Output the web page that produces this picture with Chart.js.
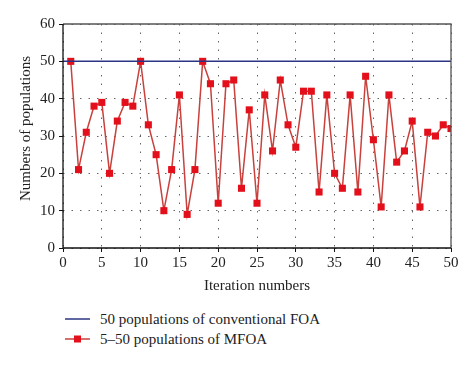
<!DOCTYPE html>
<html>
<head>
<meta charset="utf-8">
<script src="https://cdn.jsdelivr.net/npm/chart.js@4/dist/chart.umd.min.js"></script>
<style>
  html, body { margin: 0; padding: 0; background: #fff; }
  #wrap { position: relative; width: 474px; height: 366px; }
  #box { position: absolute; left: 0; top: 0; width: 474px; height: 300px; }
  #legende { position: absolute; left: 65px; top: 309px; font-family: "Liberation Serif", serif; font-size: 15px; color: #222; }
  .item { height: 20px; display: flex; align-items: center; }
  .item svg { margin-right: 10px; }
</style>
</head>
<body>
<div id="wrap">
  <div id="box"><canvas id="graphique"></canvas></div>
  <div id="legende"></div>
</div>
<script>
// Donnees
const iterations = [1, 2, 3, 4, 5, 6, 7, 8, 9, 10, 11, 12, 13, 14, 15, 16, 17, 18, 19, 20,
  21, 22, 23, 24, 25, 26, 27, 28, 29, 30, 31, 32, 33, 34, 35, 36, 37, 38, 39, 40,
  41, 42, 43, 44, 45, 46, 47, 48, 49, 50];
const populationsMFOA = [50, 21, 31, 38, 39, 20, 34, 39, 38, 50, 33, 25, 10, 21, 41, 9, 21, 50, 44, 12,
  44, 45, 16, 37, 12, 41, 26, 45, 33, 27, 42, 42, 15, 41, 20, 16, 41, 15, 46, 29,
  11, 41, 23, 26, 34, 11, 31, 30, 33, 32];
const iterationsFOA = [0, 50];
const populationsFOA = [50, 50];
const labelsSeries = ["50 populations of conventional FOA", "5\u201350 populations of MFOA"];
const xTicks = [0, 5, 10, 15, 20, 25, 30, 35, 40, 45, 50];
const yTicks = [0, 10, 20, 30, 40, 50, 60];

const bleu = "#2c3585";
const rougeLigne = "#c8413c";
const rougePoint = "#e3101b";
const police = "'Liberation Serif', serif";

const data = {
  datasets: [{
    label: labelsSeries[0],
    data: iterationsFOA.map((x, i) => ({x: x, y: populationsFOA[i]})),
    borderColor: bleu,
    borderWidth: 1.5,
    pointRadius: 0
  }, {
    label: labelsSeries[1],
    data: iterations.map((x, i) => ({x: x, y: populationsMFOA[i]})),
    borderColor: rougeLigne,
    borderWidth: 1.5,
    pointStyle: "rect",
    pointRadius: 5,
    pointBackgroundColor: rougePoint,
    pointBorderColor: rougePoint,
    pointBorderWidth: 0
  }]
};

// cadre autour de la zone du graphique
const cadre = {
  id: "cadre",
  afterDraw(chart) {
    const a = chart.chartArea;
    const ctx = chart.ctx;
    ctx.save();
    ctx.strokeStyle = "#555";
    ctx.lineWidth = 1.3;
    ctx.beginPath();
    ctx.moveTo(a.left, a.top);
    ctx.lineTo(a.right, a.top);
    ctx.lineTo(a.right, a.bottom);
    ctx.stroke();
    ctx.strokeStyle = "#111";
    ctx.beginPath();
    ctx.moveTo(a.left, a.top);
    ctx.lineTo(a.left, a.bottom);
    ctx.lineTo(a.right, a.bottom);
    ctx.stroke();
    ctx.restore();
  }
};

const config = {
  type: "line",
  data: data,
  options: {
    responsive: true,
    maintainAspectRatio: false,
    animation: false,
    layout: { padding: { top: 24, right: 23, left: 0, bottom: 0 } },
    plugins: { legend: { display: false }, tooltip: { enabled: false } },
    scales: {
      x: {
        type: "linear",
        min: 0, max: 50,
        afterFit: (s) => { s.height = 52; },
        afterBuildTicks: (s) => { s.ticks = xTicks.map(v => ({value: v})); },
        ticks: { color: "#222", padding: 2, maxRotation: 0, font: { family: police, size: 15 } },
        grid: { color: "#666", lineWidth: 1, tickLength: 4, tickColor: "#111" },
        border: { display: false, dash: [1.5, 7] },
        title: { display: true, text: "Iteration numbers", color: "#222", padding: { top: 0, bottom: 5 }, font: { family: police, size: 15 } }
      },
      y: {
        min: 0, max: 60,
        afterFit: (s) => { s.width = 63; },
        afterBuildTicks: (s) => { s.ticks = yTicks.map(v => ({value: v})); },
        ticks: { color: "#222", padding: 4, font: { family: police, size: 15 } },
        grid: { color: "#666", lineWidth: 1, tickLength: 4, tickColor: "#111" },
        border: { display: false, dash: [1.5, 7] },
        // espaces au debut pour remonter un peu le titre comme sur l'original
        title: { display: true, text: "\u00a0\u00a0\u00a0\u00a0Numbers of populations", color: "#222", padding: { top: 17, bottom: 0 }, font: { family: police, size: 15 } }
      }
    }
  },
  plugins: [cadre]
};

const graphique = new Chart(document.querySelector("#graphique"), config);

// Legende en html sous le graphique
const legende = document.querySelector("#legende");
data.datasets.forEach(ds => {
  const ligne = document.createElement("div");
  ligne.className = "item";
  let marque = `<line x1="0" y1="5" x2="25" y2="5" stroke="${ds.borderColor}" stroke-width="1.5"/>`;
  if (ds.pointRadius > 0) {
    marque += `<rect x="9" y="1.5" width="7" height="7" fill="${ds.pointBackgroundColor}"/>`;
  }
  ligne.innerHTML = `<svg width="25" height="10">${marque}</svg><span>${ds.label}</span>`;
  legende.appendChild(ligne);
});
</script>
</body>
</html>
